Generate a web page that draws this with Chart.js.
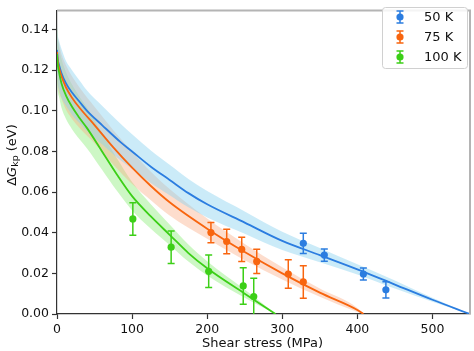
<!DOCTYPE html>
<html>
<head>
<meta charset="utf-8">
<script src="https://cdn.jsdelivr.net/npm/chart.js@4/dist/chart.umd.min.js"></script>
<style>
  body { margin: 0; background: #fff; }
  #chart { display: block; }
</style>
</head>
<body>
<canvas id="chart" width="474" height="351"></canvas>
<script>
// temperatures and colours
const temps = ['50 K', '75 K', '100 K'];
const colors = ['#2b7de0', '#f8650f', '#3ccf17'];
const bandColors = ['rgba(140,210,240,0.45)', 'rgba(250,170,130,0.4)', 'rgba(130,235,110,0.4)'];

// measured points (MPa, eV, +/- eV)
const stress50 = [328, 356, 408, 438];
const dG50 = [0.0348, 0.0290, 0.0197, 0.0119];
const err50 = [0.005, 0.003, 0.003, 0.004];

const stress75 = [205, 226, 246, 266, 308, 328];
const dG75 = [0.0401, 0.0357, 0.0318, 0.0259, 0.0197, 0.0158];
const err75 = [0.005, 0.006, 0.006, 0.006, 0.007, 0.008];

const stress100 = [101, 152, 202, 248, 262];
const dG100 = [0.0468, 0.0329, 0.0210, 0.0138, 0.0086];
const err100 = [0.008, 0.008, 0.008, 0.009, 0.009];

// fitted curves and band half widths
const fitX50 = [0, 1, 3, 6, 12, 20, 30, 40, 60, 85, 100, 125, 150, 175, 200, 250, 300, 350, 400, 450, 500, 550];
const fit50 = [0.130, 0.1255, 0.1222, 0.1185, 0.1135, 0.109, 0.1045, 0.100, 0.093, 0.0845, 0.080, 0.0725, 0.066, 0.0595, 0.054, 0.045, 0.036, 0.029, 0.022, 0.0145, 0.007, 0];
const band50 = [0.012, 0.012, 0.012, 0.012, 0.011, 0.011, 0.0105, 0.010, 0.0095, 0.009, 0.0085, 0.008, 0.0075, 0.007, 0.0065, 0.0055, 0.0045, 0.0035, 0.0025, 0.002, 0.001, 0];

const fitX75 = [0, 1, 3, 6, 12, 20, 30, 50, 75, 100, 125, 150, 200, 250, 300, 350, 400, 408];
const fit75 = [0.129, 0.1245, 0.1208, 0.117, 0.1115, 0.1065, 0.1015, 0.093, 0.082, 0.072, 0.063, 0.055, 0.042, 0.0305, 0.020, 0.0105, 0.002, 0];
const band75 = [0.012, 0.012, 0.012, 0.011, 0.011, 0.0105, 0.010, 0.009, 0.0085, 0.008, 0.007, 0.0065, 0.005, 0.004, 0.003, 0.002, 0.001, 0];

const fitX100 = [0, 1, 3, 6, 12, 20, 30, 40, 60, 80, 100, 125, 150, 175, 200, 250, 291];
const fit100 = [0.128, 0.1228, 0.1185, 0.1135, 0.1075, 0.102, 0.0965, 0.0915, 0.080, 0.0685, 0.058, 0.048, 0.039, 0.030, 0.0225, 0.010, 0];
const band100 = [0.013, 0.013, 0.012, 0.012, 0.0115, 0.011, 0.0105, 0.010, 0.009, 0.008, 0.007, 0.006, 0.005, 0.0042, 0.0035, 0.002, 0];

const xTicks = [0, 100, 200, 300, 400, 500];
const yTicks = [0, 0.02, 0.04, 0.06, 0.08, 0.10, 0.12, 0.14];

const points = [[stress50, dG50, err50], [stress75, dG75, err75], [stress100, dG100, err100]];
const fits = [[fitX50, fit50, band50], [fitX75, fit75, band75], [fitX100, fit100, band100]];

const FONT = 'DejaVu Sans';

function toXY(xs, ys) {
  return xs.map((x, i) => ({ x: x, y: ys[i] }));
}

let datasets = [];
fits.forEach((f, i) => {
  const lower = f[1].map((v, j) => v - f[2][j]);
  const upper = f[1].map((v, j) => v + f[2][j]);
  datasets.push({
    data: toXY(f[0], lower), showLine: true, borderWidth: 0, pointRadius: 0,
    borderColor: 'rgba(0,0,0,0)', fill: false, cubicInterpolationMode: 'monotone', order: 10
  });
  datasets.push({
    data: toXY(f[0], upper), showLine: true, borderWidth: 0, pointRadius: 0,
    borderColor: 'rgba(0,0,0,0)', backgroundColor: bandColors[i], fill: '-1',
    cubicInterpolationMode: 'monotone', order: 9
  });
});
fits.forEach((f, i) => {
  datasets.push({
    data: toXY(f[0], f[1]), showLine: true, borderColor: colors[i], borderWidth: 1.8,
    pointRadius: 0, fill: false, cubicInterpolationMode: 'monotone', order: 5 - i
  });
});
points.forEach((p, i) => {
  datasets.push({
    label: temps[i], data: toXY(p[0], p[1]), errors: p[2], isPoints: true, colorIdx: i,
    pointRadius: 3.6, pointBackgroundColor: colors[i], pointBorderWidth: 0,
    showLine: false, order: 1
  });
});

// error bars drawn right before their points
const errorBars = {
  id: 'errorBars',
  beforeDatasetDraw(chart, args) {
    const ds = chart.data.datasets[args.index];
    if (!ds.isPoints) return;
    const ctx = chart.ctx, xs = chart.scales.x, ys = chart.scales.y;
    const a = chart.chartArea;
    ctx.save();
    ctx.beginPath();
    ctx.rect(a.left, a.top, a.right - a.left, a.bottom - a.top);
    ctx.clip();
    ctx.strokeStyle = colors[ds.colorIdx];
    ctx.lineWidth = 1.5;
    ds.data.forEach((pt, j) => {
      const px = xs.getPixelForValue(pt.x);
      const y1 = ys.getPixelForValue(pt.y + ds.errors[j]);
      const y2 = ys.getPixelForValue(pt.y - ds.errors[j]);
      ctx.beginPath();
      ctx.moveTo(px, y1); ctx.lineTo(px, y2);
      ctx.moveTo(px - 3.5, y1); ctx.lineTo(px + 3.5, y1);
      ctx.moveTo(px - 3.5, y2); ctx.lineTo(px + 3.5, y2);
      ctx.stroke();
    });
    ctx.restore();
  }
};

// frame, axis titles and legend
const decor = {
  id: 'decor',
  afterDraw(chart) {
    const ctx = chart.ctx, a = chart.chartArea;
    ctx.save();
    ctx.strokeStyle = '#b4b4b4';
    ctx.lineWidth = 2;
    ctx.beginPath();
    ctx.moveTo(a.left, a.top); ctx.lineTo(a.right, a.top); ctx.lineTo(a.right, a.bottom);
    ctx.stroke();

    ctx.fillStyle = '#111';
    ctx.font = '13px "' + FONT + '"';
    ctx.textAlign = 'center';
    ctx.textBaseline = 'middle';
    ctx.fillText('Shear stress (MPa)', (a.left + a.right) / 2 - 1, 344);

    // y title with subscript
    ctx.save();
    ctx.translate(13, 155);
    ctx.rotate(-Math.PI / 2);
    const parts = [
      ['\u0394', '13px "' + FONT + '"', 0],
      ['G', 'italic 13px "' + FONT + '"', 0],
      ['kp', '9.5px "' + FONT + '"', 3],
      [' (eV)', '13px "' + FONT + '"', 0]
    ];
    let total = 0;
    parts.forEach(p => { ctx.font = p[1]; total += ctx.measureText(p[0]).width; });
    let x = -total / 2;
    ctx.textAlign = 'left';
    parts.forEach(p => {
      ctx.font = p[1];
      ctx.fillText(p[0], x, p[2]);
      x += ctx.measureText(p[0]).width;
    });
    ctx.restore();

    // legend
    const lx = 382, ly = 7, lw = 85, lh = 61;
    ctx.fillStyle = 'rgba(255,255,255,0.85)';
    ctx.strokeStyle = '#d0d0d0';
    ctx.lineWidth = 1;
    ctx.beginPath();
    ctx.roundRect(lx + 0.5, ly + 0.5, lw, lh, 3);
    ctx.fill(); ctx.stroke();
    temps.forEach((t, i) => {
      const cy = 17 + i * 20;
      const mx = 400;
      ctx.strokeStyle = colors[i];
      ctx.lineWidth = 1.5;
      ctx.beginPath();
      ctx.moveTo(mx, cy - 6); ctx.lineTo(mx, cy + 6);
      ctx.moveTo(mx - 3.5, cy - 6); ctx.lineTo(mx + 3.5, cy - 6);
      ctx.moveTo(mx - 3.5, cy + 6); ctx.lineTo(mx + 3.5, cy + 6);
      ctx.stroke();
      ctx.fillStyle = colors[i];
      ctx.beginPath();
      ctx.arc(mx, cy, 3.6, 0, Math.PI * 2);
      ctx.fill();
      ctx.fillStyle = '#111';
      ctx.font = '13px "' + FONT + '"';
      ctx.textAlign = 'left';
      ctx.fillText(t, 424, cy + 1);
    });
    ctx.restore();
  }
};

new Chart(document.getElementById('chart'), {
  type: 'scatter',
  data: { datasets: datasets },
  options: {
    responsive: false,
    animation: false,
    devicePixelRatio: 1,
    layout: { padding: { top: 1, right: 2, left: 0, bottom: 0 } },
    plugins: { legend: { display: false }, tooltip: { enabled: false } },
    scales: {
      x: {
        type: 'linear', min: 0, max: 550,
        afterFit: s => { s.height = 37; },
        afterBuildTicks: s => { s.ticks = xTicks.map(v => ({ value: v })); },
        ticks: { color: '#111', font: { family: FONT, size: 12.5 }, padding: 3, maxRotation: 0,
                 callback: v => String(v) },
        grid: { drawOnChartArea: false, drawTicks: true, tickLength: 5, color: '#333', tickWidth: 1.2 },
        border: { display: true, color: '#333', width: 1.2 }
      },
      y: {
        type: 'linear', min: 0, max: 0.1494,
        afterFit: s => { s.width = 57; },
        afterBuildTicks: s => { s.ticks = yTicks.map(v => ({ value: v })); },
        ticks: { color: '#111', font: { family: FONT, size: 12.5 }, padding: 3,
                 callback: v => v.toFixed(2) },
        grid: { drawOnChartArea: false, drawTicks: true, tickLength: 5, color: '#333', tickWidth: 1.2 },
        border: { display: true, color: '#333', width: 1.2 }
      }
    }
  },
  plugins: [errorBars, decor]
});
</script>
</body>
</html>
